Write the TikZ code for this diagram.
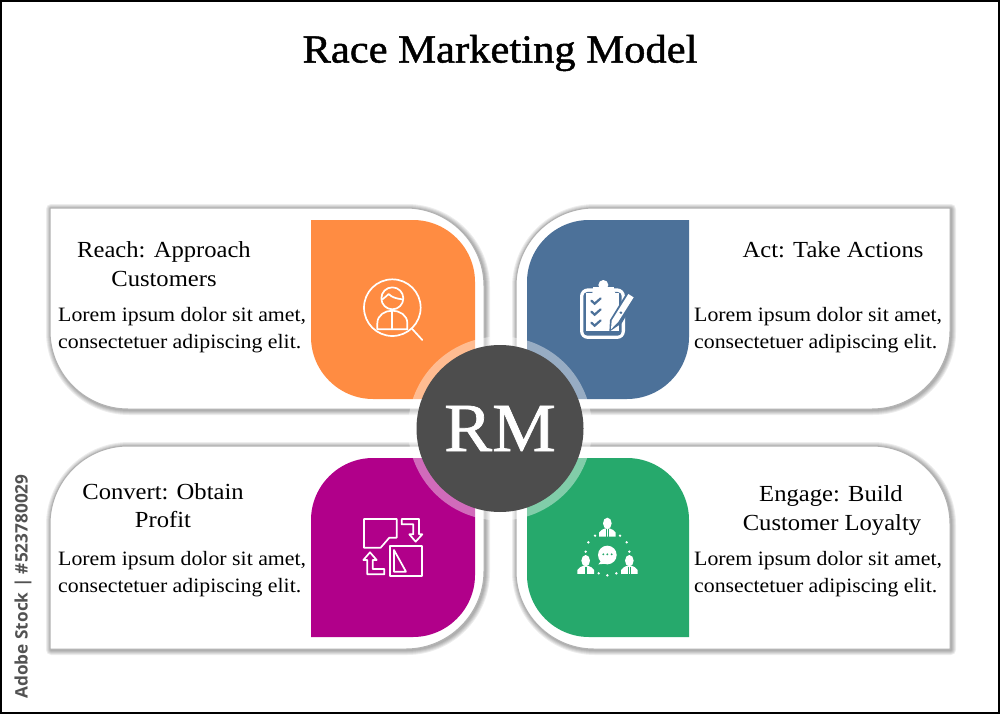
\documentclass[tikz,border=0pt]{standalone}
\usepackage{fontspec}
\setmainfont[FakeStretch=1.07]{Liberation Serif}
\newfontfamily\titlefont[FakeStretch=1.07,FakeBold=1.2]{Liberation Serif}
\newfontfamily\markfont[FakeStretch=1.04,FakeBold=1]{Liberation Serif}
\newfontfamily\stockfont{Open Sans}
\definecolor{cOrange}{RGB}{255,140,66}
\definecolor{cBlue}{RGB}{76,113,153}
\definecolor{cPurple}{RGB}{177,0,138}
\definecolor{cGreen}{RGB}{38,169,108}
\definecolor{cDark}{RGB}{77,77,77}
\newcommand\leafTR[5]{(#1,#2) -- ({#3-#5},#2) .. controls ({#3-.45*#5},#2) and (#3,{#2+.45*#5}) .. (#3,{#2+#5}) -- (#3,#4) -- ({#1+#5},#4) .. controls ({#1+.45*#5},#4) and (#1,{#4-.45*#5}) .. (#1,{#4-#5}) -- cycle}
\newcommand\leafTL[5]{(#3,#2) -- ({#1+#5},#2) .. controls ({#1+.45*#5},#2) and (#1,{#2+.45*#5}) .. (#1,{#2+#5}) -- (#1,#4) -- ({#3-#5},#4) .. controls ({#3-.45*#5},#4) and (#3,{#4-.45*#5}) .. (#3,{#4-#5}) -- cycle}
\tikzset{
  halo/.style={draw=black,draw opacity=.07,line join=round},
  cardfill/.style={draw=gray!60,line width=1pt,fill=white},
  heading/.style={font=\fontsize{23}{27}\selectfont,text=black,align=center,inner sep=0pt},
  bodytext/.style={font=\fontsize{20.4}{27}\selectfont,text=black,align=left,anchor=west,inner sep=0pt},
  iconline/.style={draw=white,line width=1.7pt,line join=round,line cap=round},
}
\newcommand\shadowed[1]{%
  \begin{scope}[shift={(1,1)}]
  \foreach \w in {10,8,6,4,2}{\path[halo,line width=\w pt] #1;}
  \end{scope}
  \path[cardfill] #1;}
\newcommand\person[3]{% head centre x, head centre y, scale
  \fill[white] (#1,#2) ellipse ({13*#3} and {17*#3});
  \fill[white] ({#1-25*#3},{#2+40*#3}) -- ({#1-25*#3},{#2+28*#3}) .. controls ({#1-22*#3},{#2+20*#3}) and ({#1-12*#3},{#2+18*#3}) .. ({#1-6*#3},{#2+15*#3}) -- ({#1+6*#3},{#2+15*#3}) .. controls ({#1+12*#3},{#2+18*#3}) and ({#1+22*#3},{#2+20*#3}) .. ({#1+25*#3},{#2+28*#3}) -- ({#1+25*#3},{#2+40*#3}) -- cycle;
  \draw[cGreen,line width=.5pt] ({#1-2*#3},{#2+18*#3}) -- ({#1-2*#3},{#2+40*#3}) ({#1+2*#3},{#2+18*#3}) -- ({#1+2*#3},{#2+40*#3});}
\begin{document}
\begin{tikzpicture}[x=1pt,y=-1pt]
\useasboundingbox (0,0) rectangle (1000,714);
\fill[white] (0,0) rectangle (1000,714);
\draw[black,line width=2.5pt] (1,1) rectangle (999,713);

\node[inner sep=0pt,font=\titlefont\fontsize{39.8}{44}\selectfont] (title) at (500,53) {Race Marketing Model};

% cards
\shadowed{\leafTR{50}{208}{484}{409}{78}}
\shadowed{\leafTL{516}{208}{950}{409}{78}}
\shadowed{\leafTL{50}{446}{484}{649}{78}}
\shadowed{\leafTR{516}{446}{950}{649}{78}}

% coloured leaves
\fill[cOrange] \leafTR{311}{220}{475}{399}{62};
\fill[cBlue] \leafTL{527}{220}{689}{399}{62};
\fill[cPurple] \leafTL{311}{458}{475}{637}{62};
\fill[cGreen] \leafTR{527}{458}{689}{637}{62};

% centre
\fill[white,opacity=.42] (500,428.5) circle (92);
\node[circle,fill=cDark,minimum size=167pt,inner sep=0pt,text=white,font=\markfont\fontsize{69}{70}\selectfont] (rm) at (500,428.5) {RM};

% headings
\node[heading] (reachA) at (164,251.5) {Reach: Approach};
\node[heading] (reachB) at (164,279) {Customers};
\node[heading] (act) at (833,250) {Act: Take Actions};
\node[heading] (convA) at (163,492) {Convert: Obtain};
\node[heading] (convB) at (163,519.5) {Profit};
\node[heading] (engA) at (831,496) {Engage: Build};
\node[heading] (engB) at (832,524.5) {Customer Loyalty};

% body
\node[bodytext] (b1) at (58,330) {Lorem ipsum dolor sit amet,\\consectetuer adipiscing elit.};
\node[bodytext] (b2) at (694,330) {Lorem ipsum dolor sit amet,\\consectetuer adipiscing elit.};
\node[bodytext] (b3) at (58,574) {Lorem ipsum dolor sit amet,\\consectetuer adipiscing elit.};
\node[bodytext] (b4) at (694,574) {Lorem ipsum dolor sit amet,\\consectetuer adipiscing elit.};

% stock label
\node[rotate=90,inner sep=0pt,text=black!68,font=\stockfont\fontsize{17.2}{20}\selectfont\bfseries] (stock) at (23,586.5) {Adobe Stock | \#523780029};

% icon: search person
\begin{scope}[shift={(350,270)},x=.3333pt,y=-.3333pt]
  \draw[iconline] (127,113) circle (85);
  \draw[iconline] (185,175) -- (217,210);
  \draw[iconline] (127,85) circle (33);
  \draw[iconline] (97,88) .. controls (105,82) and (110,78) .. (116,72) .. controls (125,82) and (140,86) .. (157,88);
  \draw[iconline] (82,178) -- (82,160) .. controls (82,135) and (105,122) .. (127,122) .. controls (149,122) and (172,135) .. (172,160) -- (172,178) -- cycle;
  \draw[iconline] (127,124) -- (127,178);
\end{scope}

% icon: clipboard
\begin{scope}[shift={(565,270)},x=.3333pt,y=-.3333pt]
  \fill[white,rounded corners=8pt] (45,55) rectangle (180,207);
  \fill[cBlue,rounded corners=4pt] (55,66) rectangle (170,197);
  \fill[white] (62,70) rectangle (163,183);
  \fill[white,rounded corners=3pt] (82,62) rectangle (150,72);
  \fill[white] (115,45) circle (15);
  \fill[white] (85,52) rectangle (147,66);
  \foreach \yy in {92,125,158}{
    \draw[cBlue,line width=2.2pt,line cap=round,line join=miter] (79,\yy) -- (89,{\yy+9}) -- (107,{\yy-7});
  }
  \fill[cBlue] (135,150) -- (133,185) -- (170,160) -- (215,85) -- (190,60) -- cycle;
  \fill[white] (140,152) -- (138,178) -- (160,155) -- (206,82) -- (190,72) -- cycle;
  \fill[cBlue] (163,128) -- (168,124) -- (172,128) -- (168,132) -- cycle;
\end{scope}

% icon: shapes and arrows
\begin{scope}[shift={(350,505)},x=.3333pt,y=-.3333pt]
  \draw[iconline] (42,42) -- (140,42) -- (140,98) -- (118,98) -- (92,128) -- (42,128) -- cycle;
  \draw[iconline] (120,122) rectangle (215,212);
  \draw[iconline] (132,135) -- (132,200) -- (168,200) -- cycle;
  \draw[iconline] (155,42) -- (207,42) -- (207,88) -- (217,88) -- (197,110) -- (178,88) -- (190,88) -- (190,58) -- (155,58) -- cycle;
  \draw[iconline] (103,208) -- (52,208) -- (52,165) -- (40,165) -- (60,142) -- (80,165) -- (68,165) -- (68,192) -- (103,192) -- cycle;
\end{scope}

% icon: team
\begin{scope}[shift={(565,505)},x=.3333pt,y=-.3333pt]
  \person{127}{55}{1}
  \person{62}{167}{1}
  \person{193}{167}{1}
  \fill[white] (127,150) circle (28);
  \fill[white] (108,168) -- (100,178) -- (122,176) -- cycle;
  \foreach \dx in {115,127,140}{\fill[cGreen] (\dx,148) circle (3.2);}
  \foreach \dx/\dy in {90/92,165/92,70/112,185/112,62/140,193/140,101/205,127/211,154/205}{\fill[white] (\dx,\dy) circle (4);}
\end{scope}
\end{tikzpicture}
\end{document}
